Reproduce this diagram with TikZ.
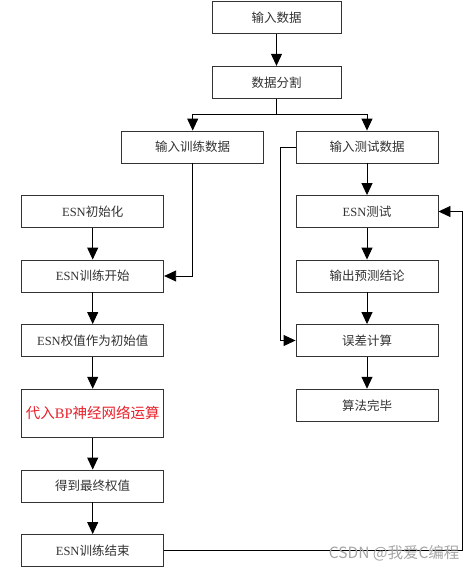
\documentclass[tikz,border=0pt]{standalone}
\usepackage{fontspec}
\setmainfont{Liberation Serif}
\newfontfamily\cjk{Noto Sans CJK SC}
\usetikzlibrary{arrows.meta}
\definecolor{bpred}{HTML}{E8202A}
\newcommand{\zh}[1]{{\cjk #1}}
\tikzset{%
	flow box/.style={
		draw=black!80,
		line width=0.9pt,
		fill=white,
		minimum width=142pt,
		minimum height=32pt,
		inner sep=0pt,
		text=black!80,
		font=\fontsize{12.5}{14}\selectfont
	},
	flow line/.style={
		draw,
		line width=0.9pt,
		-{Triangle[length=12pt,width=11pt]}
	},
}

\begin{document}
\begin{tikzpicture}[x=1pt, y=-1pt]
			\useasboundingbox (0,0) rectangle (474,571);
			
			% Top of the chart
			\node[flow box, minimum width=129pt] (input) at (276.5,17.5) {\zh{输入数据}};
			\node[flow box, minimum width=129pt] (split) at (276.5,82.3) {\zh{数据分割}};
			\node[flow box] (train) at (192.7,147) {\zh{输入训练数据}};
			\node[flow box] (test) at (367,147) {\zh{输入测试数据}};
			
			% Training column
			\node[flow box] (init) at (92.7,211.5) {ESN\zh{初始化}};
			\node[flow box] (start) at (92.7,276) {ESN\zh{训练开始}};
			\node[flow box] (weight) at (92.7,340.5) {ESN\zh{权值作为初始值}};
			\node[flow box, minimum height=48pt, text=bpred, font=\fontsize{14.5}{16}\selectfont] (bp) at (92.7,413.2) {\zh{代入}BP\zh{神经网络运算}};
			\node[flow box] (final) at (92.7,486) {\zh{得到最终权值}};
			\node[flow box] (finish) at (92.7,550.5) {ESN\zh{训练结束}};
			
			% Testing column
			\node[flow box] (esntest) at (367,211.5) {ESN\zh{测试}};
			\node[flow box] (output) at (367,276) {\zh{输出预测结论}};
			\node[flow box] (error) at (367,340.5) {\zh{误差计算}};
			\node[flow box] (done) at (367,405.2) {\zh{算法完毕}};
			
			\coordinate (fork) at (276.5,114);
			\coordinate (back) at (462,0);
			
			% Connectors
			\draw[flow line] (input) -- (split);
			\draw[line width=0.9pt] (split) -- (fork);
			\draw[flow line] (fork) -| (train);
			\draw[flow line] (fork) -| (test);
			\draw[flow line] (train) |- (start);
			\draw[flow line] (test) -- (esntest);
			\draw[flow line] (test.west) -- ++(-15.5,0) |- (error.west);
			\draw[flow line] (init) -- (start);
			\draw[flow line] (start) -- (weight);
			\draw[flow line] (weight) -- (bp);
			\draw[flow line] (bp) -- (final);
			\draw[flow line] (final) -- (finish);
			\draw[flow line] (esntest) -- (output);
			\draw[flow line] (output) -- (error);
			\draw[flow line] (error) -- (done);
			\draw[flow line] (finish.east) -- (finish.east -| back) |- (esntest.east);
			
			\node[anchor=east, text=black!35, font=\cjk\fontsize{15.5}{17}\selectfont] (mark) at (463,553) {CSDN @我爱C编程};
			
		\end{tikzpicture}
\end{document}
